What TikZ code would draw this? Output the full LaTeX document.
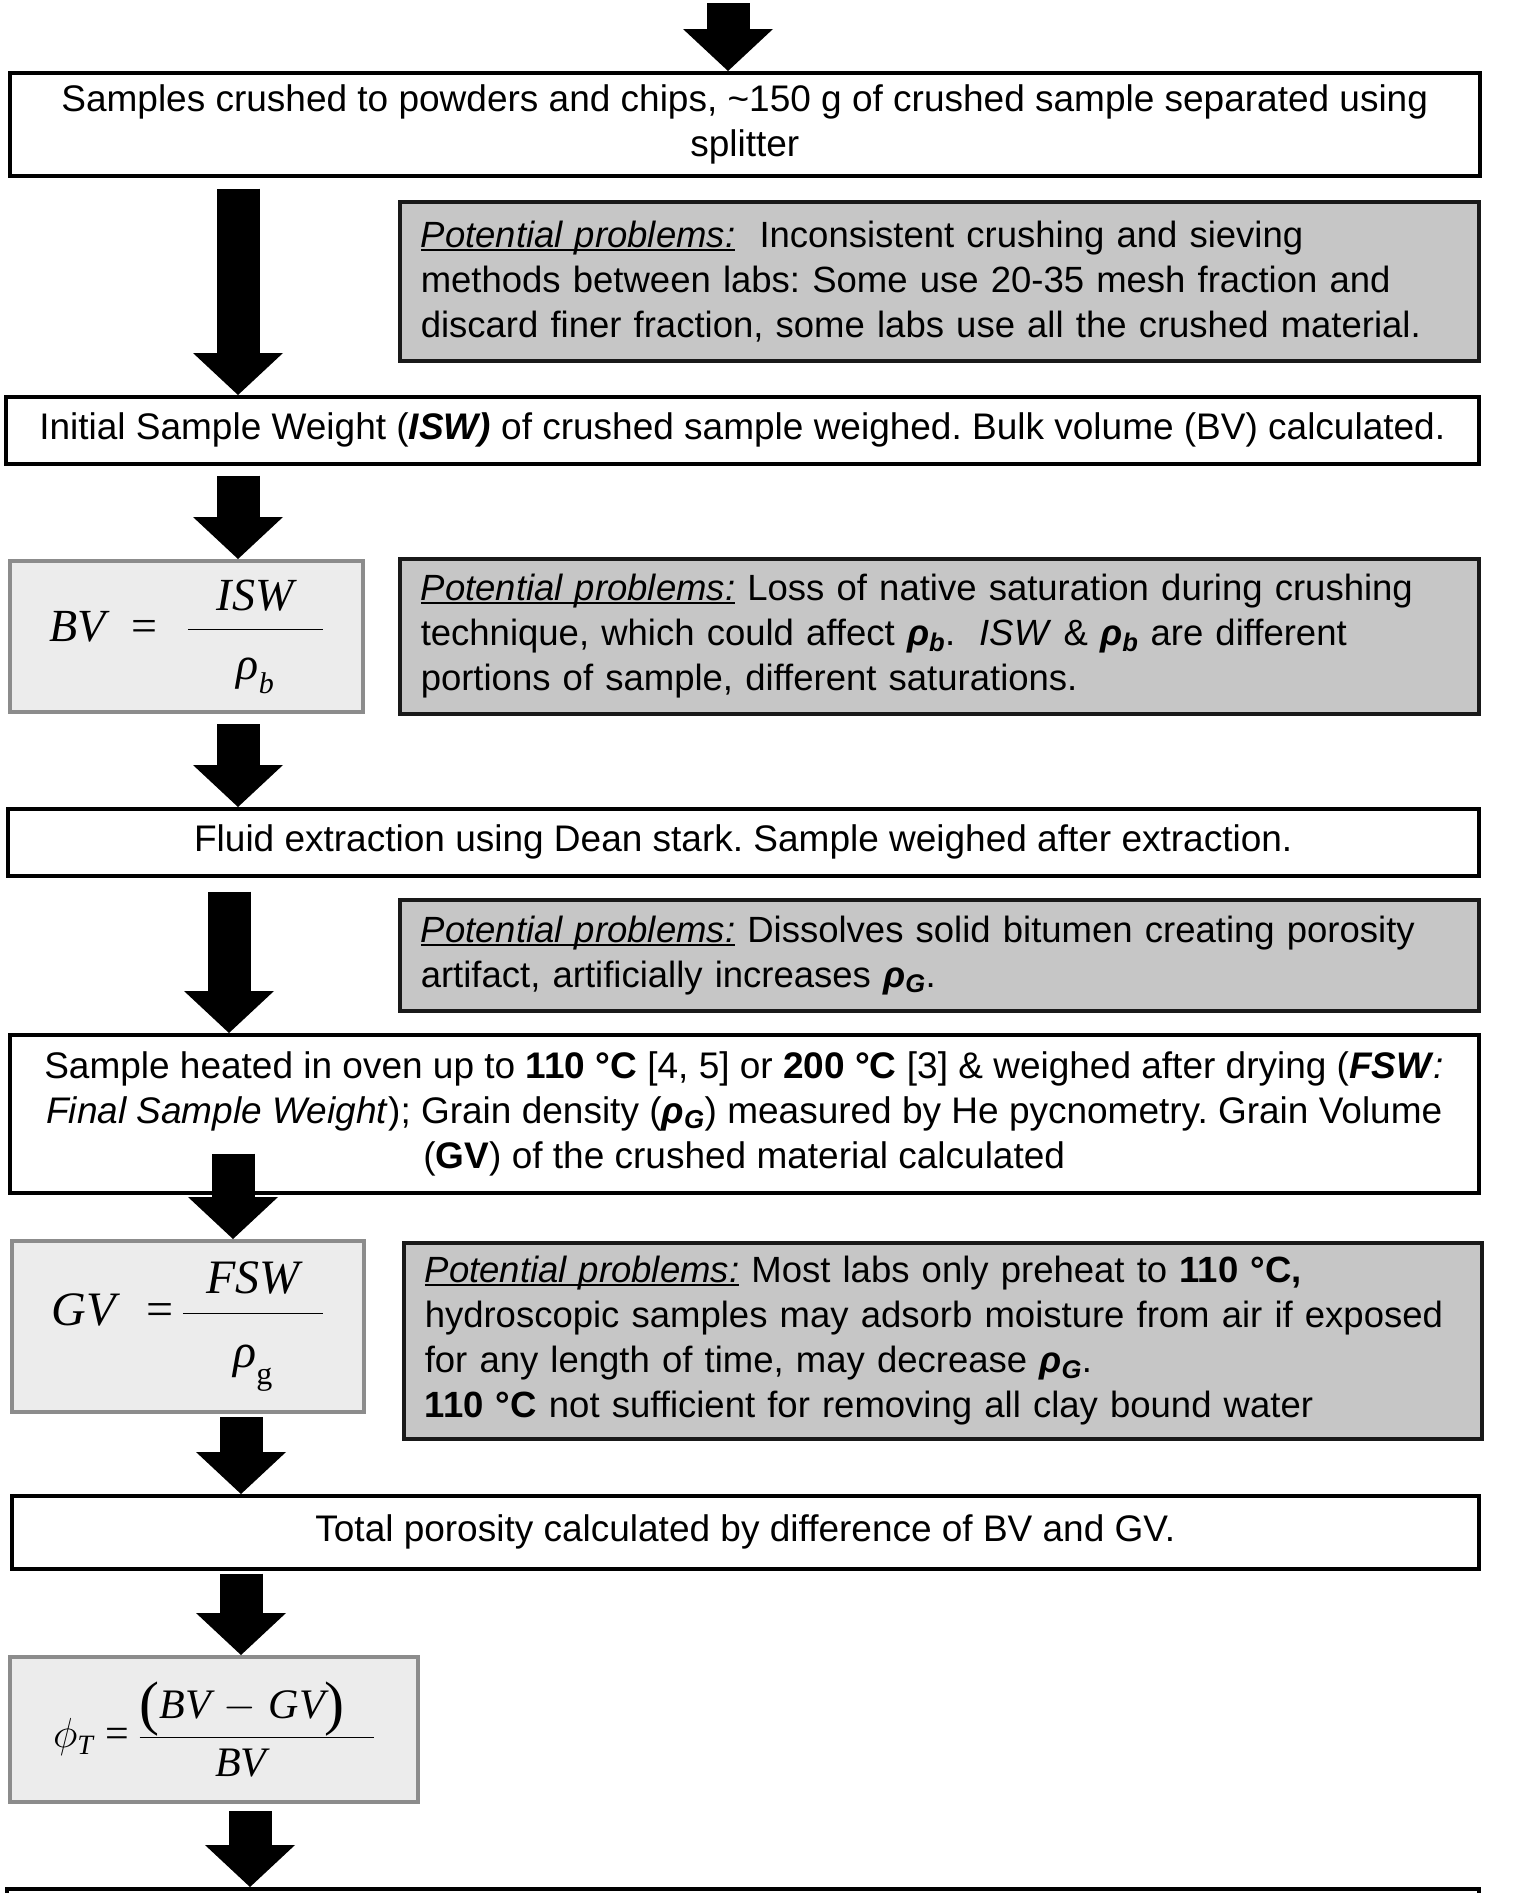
\RequirePackage{fix-cm}
\documentclass[tikz,border=0pt]{standalone}
\usepackage{fontspec}
\setmainfont{Liberation Sans}
\newfontfamily\fml{Liberation Serif}
\usetikzlibrary{arrows.meta}
\definecolor{probgray}{HTML}{C6C6C6}
\definecolor{formgray}{HTML}{ECECEC}
\definecolor{formedge}{HTML}{8C8C8C}
\newcommand{\fmlit}{\fml\itshape}
\newcommand{\fmleq}{\mathrel{\mbox{\fml =}}}
\newcommand{\probhead}{\begingroup\sbox0{\textit{Potential problems:}}\rlap{\rule[-0.1em]{\wd0}{0.06em}}\usebox0\endgroup}
\newcommand{\rhob}[1]{\textbf{\textit{ρ\textsubscript{#1}}}}
\newcommand{\bigparen}[1]{\raisebox{-0.12em}{\fontsize{60}{60}\selectfont\fml #1}}

\begin{document}
\begin{tikzpicture}[x=1pt,y=-1pt,font={\fontsize{37}{45}\selectfont\frenchspacing}]
\tikzstyle{stepbox}=[draw=black,line width=3.5pt,fill=white,align=center,inner sep=0pt,anchor=north west]
\tikzstyle{probbox}=[draw=black!90,line width=3.5pt,fill=probgray,align=left,inner xsep=21pt,inner ysep=0pt,anchor=north west,font={\fontsize{36.5}{45}\selectfont\frenchspacing}]
\tikzstyle{formbox}=[draw=formedge,line width=4pt,fill=formgray,inner sep=0pt,anchor=north west]
\tikzstyle{bigarrow}=[line width=43pt,-{Triangle[length=42pt,width=90pt,line width=0pt]}]
\useasboundingbox (0,0) rectangle (1531,1893);
\clip (0,0) rectangle (1531,1893);
% arrow columns
\coordinate (in) at (728,3);
\coordinate (cB) at (238,0);
\coordinate (cC) at (229,0);
\coordinate (cD) at (233,0);
\coordinate (cE) at (241,0);
\coordinate (cF) at (250,0);
% steps
\node[stepbox,minimum width=1470pt,minimum height=103pt] (crush) at (8,71)
  {Samples crushed to powders and chips, \textasciitilde150 g of crushed sample separated using\\splitter};
\node[probbox,text width=1037pt,minimum width=1079pt,minimum height=159pt] (prob1) at (398,200)
  {\probhead~ Inconsistent crushing and sieving\\methods between labs: Some use 20-35 mesh fraction and\\discard finer fraction, some labs use all the crushed material.};
\node[stepbox,minimum width=1473pt,minimum height=67pt] (isw) at (4,395)
  {Initial Sample Weight (\textbf{\textit{ISW)}} of crushed sample weighed. Bulk volume (BV) calculated.};
\node[formbox,minimum width=353pt,minimum height=151pt] (fbv) at (8,559)
  {\fontsize{46}{54}\selectfont$\displaystyle\mbox{\fmlit BV}\hspace{0.3em}\fmleq\hspace{0.35em}\frac{\makebox[135pt]{\fmlit ISW}}{\rule{0pt}{1.05em}\mbox{\fmlit ρ}\raisebox{-0.3em}{\fontsize{30}{30}\selectfont\fmlit b}}$};
\node[probbox,text width=1037pt,minimum width=1079pt,minimum height=155pt] (prob2) at (398,557)
  {\probhead{} Loss of native saturation during crushing\\technique, which could affect \rhob{b}.~ \textit{ISW} \& \rhob{b} are different\\portions of sample, different saturations.};
\node[stepbox,minimum width=1471pt,minimum height=67pt] (dean) at (6,807)
  {Fluid extraction using Dean stark. Sample weighed after extraction.};
\node[probbox,text width=1037pt,minimum width=1079pt,minimum height=111pt] (prob3) at (398,898)
  {\probhead{} Dissolves solid bitumen creating porosity\\artifact, artificially increases \rhob{G}.};
\node[stepbox,minimum width=1469pt,minimum height=158pt] (heat) at (8,1033)
  {Sample heated in oven up to \textbf{110 °C} [4, 5] or \textbf{200 °C} [3] \& weighed after drying (\textbf{\textit{FSW}}\textit{:}\\
   \textit{Final Sample Weight}); Grain density (\rhob{G}) measured by He pycnometry. Grain Volume\\
   (\textbf{GV}) of the crushed material calculated};
\node[formbox,minimum width=352pt,minimum height=171pt] (fgv) at (10,1239)
  {\fontsize{48}{56}\selectfont$\displaystyle\mbox{\fmlit GV}\hspace{0.35em}\fmleq\hspace{-0.1em}\frac{\makebox[140pt]{\fmlit FSW}}{\rule{0pt}{1.1em}\mbox{\fmlit ρ}\raisebox{-0.35em}{\fontsize{32}{32}\selectfont\fml g}}$};
\node[probbox,text width=1036pt,minimum width=1078pt,minimum height=196pt] (prob4) at (402,1241)
  {\probhead{} Most labs only preheat to \textbf{110 °C,}\\hydroscopic samples may adsorb moisture from air if exposed\\for any length of time, may decrease \rhob{G}.\\\textbf{110 °C} not sufficient for removing all clay bound water};
\node[stepbox,minimum width=1467pt,minimum height=73pt] (total) at (10,1494)
  {Total porosity calculated by difference of BV and GV.};
\node[formbox,minimum width=408pt,minimum height=145pt] (fphi) at (8,1655)
  {\fontsize{42}{50}\selectfont$\displaystyle\phi_{\mbox{\fontsize{28}{28}\selectfont\fmlit T}}\fmleq\hspace{-0.05em}\frac{\makebox[234pt][l]{\bigparen{(}{\fmlit BV}\hspace{0.3em}$-$\hspace{0.3em}{\fmlit GV}\bigparen{)}}}{\makebox[234pt]{{\fmlit BV}\hspace{32pt}}}$};
\node[stepbox,minimum width=1472pt,minimum height=100pt] (last) at (5,1887) {};
% block arrows
\draw[bigarrow] (in) -- (in |- crush.north);
\draw[bigarrow] ([yshift=-11pt]crush.south -| cB) -- (isw.north -| cB);
\draw[bigarrow] ([yshift=-10pt]isw.south -| cB) -- (fbv.north -| cB);
\draw[bigarrow] ([yshift=-10pt]fbv.south -| cB) -- (dean.north -| cB);
\draw[bigarrow] ([yshift=-14pt]dean.south -| cC) -- (heat.north -| cC);
\draw[bigarrow] ([yshift=41pt]heat.south -| cD) -- (fgv.north -| cD);
\draw[bigarrow] ([yshift=-3pt]fgv.south -| cE) -- (total.north -| cE);
\draw[bigarrow] ([yshift=-3pt]total.south -| cE) -- (fphi.north -| cE);
\draw[bigarrow] ([yshift=-7pt]fphi.south -| cF) -- (last.north -| cF);
\end{tikzpicture}
\end{document}
